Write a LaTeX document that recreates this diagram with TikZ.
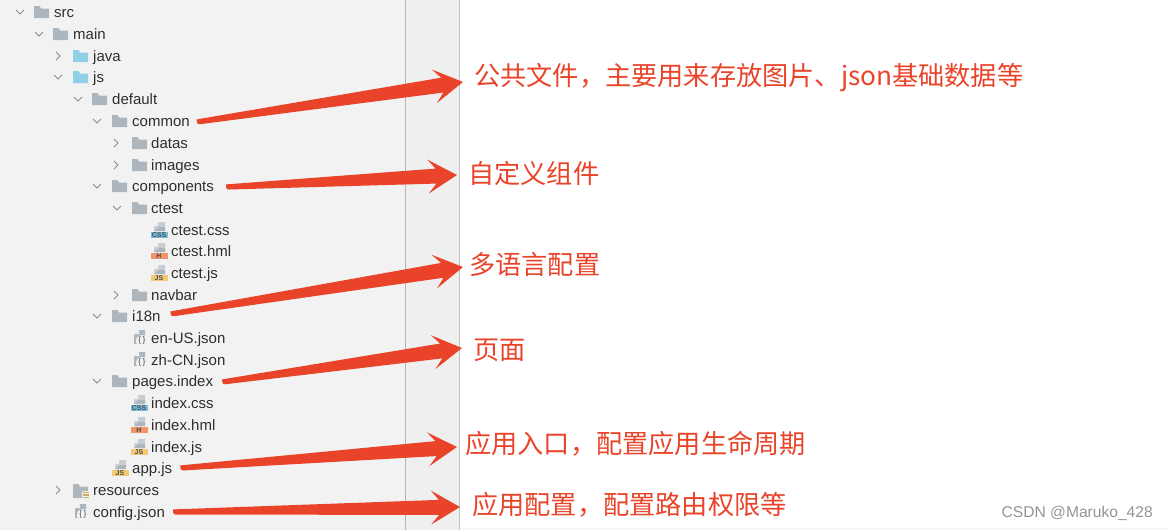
\documentclass[tikz,border=0pt]{standalone}
\usepackage{fontspec}
\setmainfont{Liberation Sans}
\newfontfamily\cjk{Noto Sans CJK SC}
\usepackage{tikz}
\usetikzlibrary{calc}
\definecolor{panelgray}{HTML}{F2F2F2}
\definecolor{gutter}{HTML}{EFEFEF}
\definecolor{dividergray}{HTML}{B4B4B4}
\definecolor{foldergray}{HTML}{AEB6BD}
\definecolor{folderblue}{HTML}{8FD0E8}
\definecolor{chevgray}{HTML}{8C8C8C}
\definecolor{treeink}{HTML}{2E2E2E}
\definecolor{markred}{HTML}{E9442A}
\definecolor{cssband}{HTML}{74BEDC}
\definecolor{htmlband}{HTML}{F29468}
\definecolor{jsband}{HTML}{F3C974}
\newcommand{\redarrow}[2]{
  \fill[markred] ($(#1)!2.6pt!90:(#2)$) [rounded corners=2.4pt] -- ($(#1)!2.6pt!-90:(#2)$) [sharp corners]
    -- ($(#2)!21pt!(#1)!7.5pt!-90:(#2)$) -- ($(#2)!29pt!(#1)!17pt!-90:(#2)$) -- (#2)
    -- ($(#2)!29pt!(#1)!17pt!90:(#2)$) -- ($(#2)!21pt!(#1)!7.5pt!90:(#2)$) -- cycle;
}
\tikzset{
  rowlabel/.style={anchor=west,inner sep=0pt,text height=12pt,text depth=2pt,text=treeink,font=\fontsize{15}{17}\selectfont},
  notelabel/.style={anchor=west,inner sep=0pt,text height=22pt,text depth=4pt,text=markred,font=\cjk\fontsize{26.2}{30}\selectfont},
  foldericon/.pic={
    \fill[pic actions] (0,-6) -- (0,6) -- (15,6) -- (15,-3.5) -- (7,-3.5) -- (5.5,-6) -- cycle;
  },
  chevdown/.pic={\draw[chevgray,line width=.8pt] (-4,-2) -- (0,2) -- (4,-2);},
  chevright/.pic={\draw[chevgray,line width=.8pt] (-2,-4) -- (2,0) -- (-2,4);},
  fileicon/.pic={
    \fill[foldergray!70] (3,1) -- (3,-3) -- (8,-8) -- (14,-8) -- (14,1) -- cycle;
    \fill[panelgray] (7,-7) -- (7,-4) -- (4,-4) -- cycle;
    \fill[foldergray] (3,1) -- (14,1) -- (14,-3) -- (8,-3) -- cycle;
    \fill[pic actions] (0,2) rectangle (16.5,8);
    \node[inner sep=0pt,text=treeink!85,font=\fontsize{7}{7}\selectfont\bfseries] (-tag) at (8,5) {\tikzpictext};
  },
  jsonicon/.pic={
    \fill[foldergray] (0,6) -- (0,-3) -- (5,-8) -- (11,-8) -- (11,6) -- cycle;
    \fill[panelgray] (5,-8) -- (5,-4) -- (1,-4) -- cycle;
    \fill[panelgray] (8,3) circle (6);
    \node[inner sep=0pt,text=treeink!85,font=\fontsize{8.5}{8}\selectfont] (-brace) at (8,2.5) {\{\,\}};
  },
  resicon/.pic={
    \fill[foldergray] (0,-6) -- (0,8) -- (9,8) -- (9,1) -- (15,1) -- (15,-3.5) -- (7,-3.5) -- (5.5,-6) -- cycle;
    \foreach \yy in {1.5,4,6.5} {\fill[jsband!85!black] (10,\yy) rectangle (16,\yy+1.5);}
  }
}
\begin{document}
\begin{tikzpicture}[x=1pt,y=-1pt]
\useasboundingbox (0,0) rectangle (1168,530);
\fill[panelgray] (0,0) rectangle (405,530);
\fill[gutter] (405,0) rectangle (459,530);
\fill[panelgray!70!white] (459,528) rectangle (1168,530);
\draw[dividergray,line width=.8pt] (405.5,0) -- (405.5,530);
\draw[dividergray!80,line width=.8pt] (459.5,0) -- (459.5,530);
% file tree
\node[rowlabel] (src) at (54,12) {src}; \pic[fill=foldergray] at (34,12) {foldericon}; \pic at (20,12) {chevdown};
\node[rowlabel] (main) at (73,34) {main}; \pic[fill=foldergray] at (53,34) {foldericon}; \pic at (39,34) {chevdown};
\node[rowlabel] (java) at (93,56) {java}; \pic[fill=folderblue] at (73,56) {foldericon}; \pic at (58,56) {chevright};
\node[rowlabel] (js) at (93,77) {js}; \pic[fill=folderblue] at (73,77) {foldericon}; \pic at (58,77) {chevdown};
\node[rowlabel] (default) at (112,99) {default}; \pic[fill=foldergray] at (92,99) {foldericon}; \pic at (78,99) {chevdown};
\node[rowlabel] (common) at (132,121) {common}; \pic[fill=foldergray] at (112,121) {foldericon}; \pic at (97,121) {chevdown};
\node[rowlabel] (datas) at (151,143) {datas}; \pic[fill=foldergray] at (132,143) {foldericon}; \pic at (116,143) {chevright};
\node[rowlabel] (images) at (151,165) {images}; \pic[fill=foldergray] at (132,165) {foldericon}; \pic at (116,165) {chevright};
\node[rowlabel] (components) at (132,186) {components}; \pic[fill=foldergray] at (112,186) {foldericon}; \pic at (97,186) {chevdown};
\node[rowlabel] (ctest) at (151,208) {ctest}; \pic[fill=foldergray] at (132,208) {foldericon}; \pic at (117,208) {chevdown};
\node[rowlabel] (ctestcss) at (171,230) {ctest.css}; \pic[fill=cssband,pic text=CSS] at (151,230) {fileicon};
\node[rowlabel] (ctesthtml) at (171,251) {ctest.hml}; \pic[fill=htmlband,pic text=H] at (151,251) {fileicon};
\node[rowlabel] (ctestjs) at (171,273) {ctest.js}; \pic[fill=jsband,pic text=JS] at (151,273) {fileicon};
\node[rowlabel] (navbar) at (151,295) {navbar}; \pic[fill=foldergray] at (132,295) {foldericon}; \pic at (116,295) {chevright};
\node[rowlabel] (i18n) at (132,316) {i18n}; \pic[fill=foldergray] at (112,316) {foldericon}; \pic at (97,316) {chevdown};
\node[rowlabel] (enus) at (151,338) {en-US.json}; \pic at (134,338) {jsonicon};
\node[rowlabel] (zhcn) at (151,360) {zh-CN.json}; \pic at (134,360) {jsonicon};
\node[rowlabel] (pages) at (132,381) {pages.index}; \pic[fill=foldergray] at (112,381) {foldericon}; \pic at (97,381) {chevdown};
\node[rowlabel] (indexcss) at (151,403) {index.css}; \pic[fill=cssband,pic text=CSS] at (131,403) {fileicon};
\node[rowlabel] (indexhtml) at (151,425) {index.hml}; \pic[fill=htmlband,pic text=H] at (131,425) {fileicon};
\node[rowlabel] (indexjs) at (151,447) {index.js}; \pic[fill=jsband,pic text=JS] at (131,447) {fileicon};
\node[rowlabel] (appjs) at (132,468) {app.js}; \pic[fill=jsband,pic text=JS] at (112,468) {fileicon};
\node[rowlabel] (resources) at (93,490) {resources}; \pic at (73,490) {resicon}; \pic at (58,490) {chevright};
\node[rowlabel] (config) at (93,512) {config.json}; \pic at (75,512) {jsonicon};
% notes on the right
\node[notelabel] (note1) at (474,76) {公共文件，主要用来存放图片、json基础数据等};
\node[notelabel] (note2) at (468,174) {自定义组件};
\node[notelabel] (note3) at (469,265) {多语言配置};
\node[notelabel] (note4) at (473,350) {页面};
\node[notelabel] (note5) at (465,444) {应用入口，配置应用生命周期};
\node[notelabel] (note6) at (472,505) {应用配置，配置路由权限等};
\node[anchor=east,inner sep=0pt,text=black!42,font=\fontsize{15.6}{17}\selectfont] (mark) at (1153,513) {CSDN @Maruko\_428};
% arrows
\coordinate (tip1) at (463,82);
\coordinate (tip2) at (457,175);
\coordinate (tip3) at (463,267);
\coordinate (tip4) at (462,348);
\coordinate (tip5) at (457,447);
\coordinate (tip6) at (460,507);
\coordinate (tail1) at ([xshift=7pt,yshift=-1pt]common.east);
\coordinate (tail2) at ([xshift=12pt,yshift=-1pt]components.east);
\coordinate (tail3) at ([xshift=10pt,yshift=2pt]i18n.east);
\coordinate (tail4) at ([xshift=9pt,yshift=-1pt]pages.east);
\coordinate (tail5) at ([xshift=8pt]appjs.east);
\coordinate (tail6) at ([xshift=8pt]config.east);
\redarrow{tail1}{tip1}
\redarrow{tail2}{tip2}
\redarrow{tail3}{tip3}
\redarrow{tail4}{tip4}
\redarrow{tail5}{tip5}
\redarrow{tail6}{tip6}
\end{tikzpicture}
\end{document}
